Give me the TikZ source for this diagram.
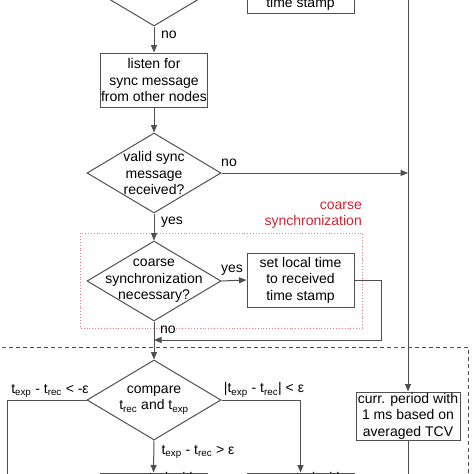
\documentclass[tikz,border=0pt]{standalone}
\usepackage{fontspec}
\setmainfont{Liberation Sans}
\usetikzlibrary{shapes.geometric,arrows.meta}
\definecolor{cred}{RGB}{205,35,50}
\definecolor{lgray}{RGB}{80,80,80}
\newcommand\fs{\fontsize{14}{16.5}\selectfont}
\begin{document}
\begin{tikzpicture}[x=1pt,y=-1pt,
 line/.style={line width=1pt, draw=lgray},
 arr/.style={line, -{Triangle[length=7.5pt,width=6pt]}},
 box/.style={draw=lgray, line width=1pt, rectangle, minimum width=107pt, minimum height=54pt, inner sep=0pt, align=center, font=\fs},
 dec/.style={draw=lgray, line width=1pt, diamond, minimum width=134pt, minimum height=80pt, inner sep=0pt},
 txt/.style={align=center, font=\fs, inner sep=0pt},
 lbl/.style={font=\fs, inner sep=0pt}]
\useasboundingbox (0,0) rectangle (474,474);
\clip (0,0) rectangle (474,474);
% frames
\draw[cred!60, dotted, line width=0.9pt] (80,233) rectangle (362,328);
\draw[lgray, line width=0.8pt, dash pattern=on 4pt off 3pt] (-5,347) -- (468,347) -- (468,480);
\node[lbl, text=cred, align=right, anchor=east] (clabel) at (362,215) {coarse\\synchronization};
% nodes
\node[dec] (d0) at (154,-14) {};
\node[box] (b0) at (300.5,-14) {};
\node[lbl, anchor=base] (b0t) at (300.5,7) {time stamp};
\node[box] (listen) at (154,80) {listen for\\sync message\\from other nodes};
\node[dec] (valid) at (154,173) {};
\node[txt] (validt) at (valid) {valid sync\\message\\received?};
\node[dec] (coarse) at (154,281) {};
\node[txt] (coarset) at (coarse) {coarse\\synchronization\\necessary?};
\node[box] (set) at (300.5,280) {set local time\\to received\\time stamp};
\node[dec] (cmp) at (154,400) {};
\node[txt] (cmpt) at (cmp) {compare\\t\textsubscript{rec} and t\textsubscript{exp}};
\node[box, minimum width=104pt, minimum height=48pt] (curr) at (408,416) {curr. period with\\1 ms based on\\averaged TCV};
\node[box] (bl) at (153.5,500) {};
\node[lbl, anchor=base] (blt) at (153.5,482) {corrected with};
\node[box] (br) at (300.5,500) {};
\node[lbl, anchor=base] (brt) at (300.5,482) {corrected with};
% coordinates
\coordinate (ttop) at (408,-5);
\coordinate (vj) at (408,173);
\coordinate (s1) at (381,280);
\coordinate (s2) at (381,340);
\coordinate (s3) at (154,340);
\coordinate (l1) at (7,400);
\coordinate (l2) at (7,485);
\coordinate (r1) at (300.5,400);
\coordinate (cb) at (408,485);
% connectors
\draw[arr] (d0.south) -- (listen.north);
\draw[arr] (listen.south) -- (valid.north);
\draw[arr] (valid.east) -- (vj);
\draw[arr] (valid.south) -- (coarse.north);
\draw[arr] (coarse.east) -- (set.west);
\draw[arr] (set.east) -- (s1) -- (s2) -- (s3);
\draw[arr] (coarse.south) -- (cmp.north);
\draw[line] (cmp.west) -- (l1) -- (l2);
\draw[arr] (cmp.east) -- (r1) -- (br.north);
\draw[arr] (cmp.south) -- (bl.north);
\draw[arr] (ttop) -- (curr.north);
\draw[line] (curr.south) -- (cb);
% labels
\node[lbl] (n0) at (169,35) {no};
\node[lbl] (n1) at (229,163) {no};
\node[lbl] (y1) at (172,222) {yes};
\node[lbl] (y2) at (232,270) {yes};
\node[lbl] (n2) at (168,330) {no};
\node[lbl] (cl) at (50,391) {t\textsubscript{exp} - t\textsubscript{rec} < -ε};
\node[lbl] (cr) at (264,390) {|t\textsubscript{exp} - t\textsubscript{rec}| < ε};
\node[lbl] (cbm) at (198,452) {t\textsubscript{exp} - t\textsubscript{rec} > ε};
\end{tikzpicture}
\end{document}
